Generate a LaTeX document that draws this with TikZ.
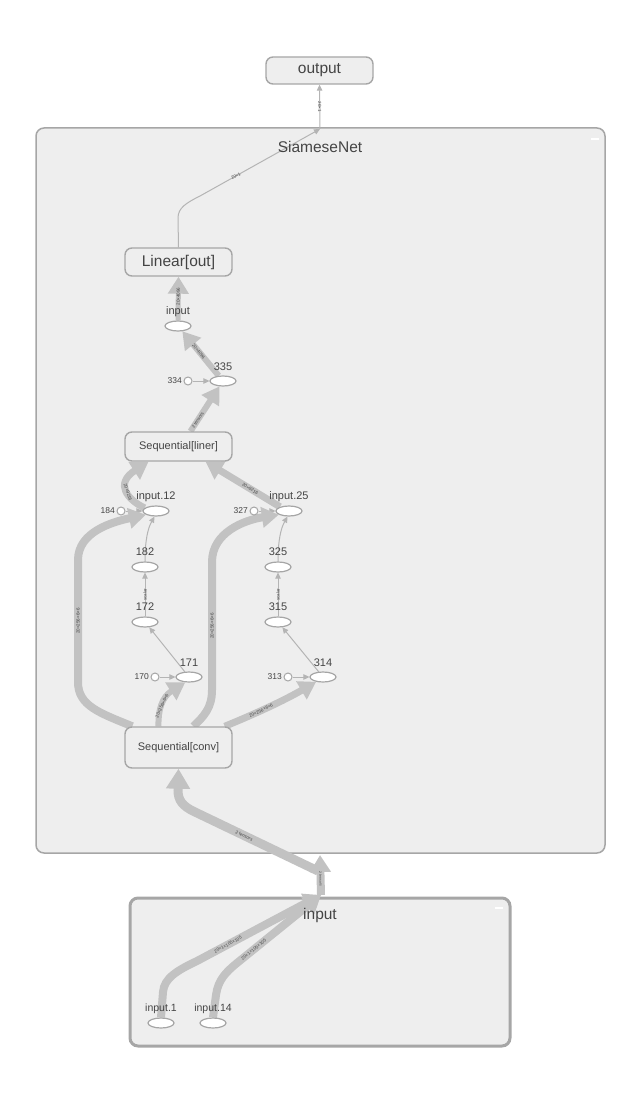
\documentclass[tikz,border=0pt]{standalone}
\usepackage{fontspec}
\setmainfont{Liberation Sans}
\usetikzlibrary{arrows.meta,shapes.geometric}
\definecolor{clfill}{HTML}{EEEEEE}
\definecolor{clline}{HTML}{A6A6A6}
\definecolor{thinc}{HTML}{B4B4B4}
\definecolor{fatc}{HTML}{C2C2C2}
\definecolor{txt}{HTML}{444444}
\pgfdeclarelayer{bg}
\pgfdeclarelayer{edges}
\pgfsetlayers{bg,edges,main}
\begin{document}
\begin{tikzpicture}[x=1pt,y=-1pt,
  cluster/.style={draw=clline, line width=1.5pt, fill=clfill, rounded corners=8pt, inner sep=0},
  opnode/.style={draw=clline, line width=1.4pt, fill=clfill, rounded corners=7pt, minimum width=107pt, minimum height=28pt, inner sep=0, text=txt},
  ellnode/.style={ellipse, draw=clline, line width=1.2pt, fill=white, minimum width=26pt, minimum height=10pt, inner sep=0},
  constnode/.style={circle, draw=clline, line width=1pt, fill=white, minimum size=8pt, inner sep=0},
  biglbl/.style={text=txt, font=\fontsize{15.5}{16}\selectfont, inner sep=0},
  lbl/.style={text=txt, font=\fontsize{11}{11}\selectfont, inner sep=0},
  clbl/.style={text=txt, font=\fontsize{8.5}{9}\selectfont, inner sep=0, anchor=east},
  thinedge/.style={draw=thinc, line width=1pt, -{Triangle[width=5.5pt,length=6pt]}},
  fatedge/.style={draw=fatc, line width=#1, -{Triangle[width=20pt,length=17pt]}},
  fatedge/.default=7pt,
  elbl/.style={sloped, text=txt, font=\fontsize{4.5}{5}\selectfont, inner sep=0.5pt}
]
\useasboundingbox (0,0) rectangle (642,1094);

\begin{pgfonlayer}{bg}
\node[cluster, minimum width=569pt, minimum height=725pt] (siam) at (320.5,490.5) {};
\node[cluster, line width=3pt, minimum width=380pt, minimum height=148pt] (incl) at (320,972) {};
\draw[white, line width=1.5pt] (591,139) -- (599,139);
\draw[white, line width=1.5pt] (495,908) -- (503,908);
\end{pgfonlayer}

% labels of clusters
\node[biglbl] (siamlbl) at (320,147) {SiameseNet};
\node[biglbl] (incllbl) at (320,915) {input};

% op nodes
\node[opnode, minimum height=27pt] (out) at (319.5,70.5) {\fontsize{15.5}{16}\selectfont output};
\node[opnode] (lin) at (178.5,262) {\fontsize{15.5}{16}\selectfont Linear[out]};
\node[opnode, minimum height=29pt] (liner) at (178.5,446.5) {\fontsize{11}{11}\selectfont Sequential[liner]};
\node[opnode, minimum height=41pt] (conv) at (178.5,747.5) {\fontsize{11}{11}\selectfont Sequential[conv]};

% ellipses
\node[ellnode] (inp) at (178,326) {};
\node[lbl] (linp) at (178,312) {input};
\node[ellnode] (n335) at (223,381) {};
\node[lbl] (l335) at (223,367) {335};
\node[ellnode] (in12) at (156,511) {};
\node[lbl] (lin12) at (156,497) {input.12};
\node[ellnode] (in25) at (289,511) {};
\node[lbl] (lin25) at (289,497) {input.25};
\node[ellnode] (n182) at (145,567) {};
\node[lbl] (l182) at (145,552) {182};
\node[ellnode] (n172) at (145,622) {};
\node[lbl] (l172) at (145,607) {172};
\node[ellnode] (n325) at (278,567) {};
\node[lbl] (l325) at (278,552) {325};
\node[ellnode] (n315) at (278,622) {};
\node[lbl] (l315) at (278,607) {315};
\node[ellnode] (n171) at (189,677) {};
\node[lbl] (l171) at (189,663) {171};
\node[ellnode] (n314) at (323,677) {};
\node[lbl] (l314) at (323,663) {314};
\node[ellnode] (inp1) at (161,1023) {};
\node[lbl, font=\fontsize{10.5}{11}\selectfont] (linp1) at (161,1009) {input.1};
\node[ellnode] (inp14) at (213,1023) {};
\node[lbl, font=\fontsize{10.5}{11}\selectfont] (linp14) at (213,1009) {input.14};

% constants
\node[constnode] (c334) at (188,381) {};
\node[clbl] (l334) at (182,381) {334};
\node[constnode] (c184) at (121,511) {};
\node[clbl] (l184) at (115,511) {184};
\node[constnode] (c327) at (254,511) {};
\node[clbl] (l327) at (248,511) {327};
\node[constnode] (c170) at (155,677) {};
\node[clbl] (l170) at (149,677) {170};
\node[constnode] (c313) at (288,677) {};
\node[clbl] (l313) at (282,677) {313};

\coordinate (sout) at (320,129);
\coordinate (bin) at (321,895);
\coordinate (sbot) at (320,855);
\coordinate (bstart) at (318,871);

\begin{pgfonlayer}{edges}
% to output
\draw[thinedge] (lin.north) -- (178,218) .. controls (178,208) and (186,203) .. (200,196) -- node[elbl,pos=0.3]{20×1} (sout);
\draw[thinedge] (sout) -- node[elbl]{20×1} (out.south);
% upper chain
\draw[fatedge=5pt] (inp.north) -- node[elbl,pos=0.55]{20×4096} (lin.south);
\draw[fatedge=6pt] (n335) -- node[elbl,pos=0.55]{20×4096} (inp);
\draw[thinedge] (c334) -- (n335);
\draw[fatedge=6pt] ([xshift=12pt]liner.north) -- node[elbl,pos=0.25]{2 tensors} (n335);
\draw[fatedge=7pt] (in12.165) .. controls (128,500) and (114,484) .. ([xshift=-30pt]liner.south) node[elbl,pos=0.45]{20×9216};
\draw[fatedge=7pt] (in25.155) -- node[elbl,pos=0.4]{20×9216} ([xshift=27pt]liner.south);
\draw[thinedge] (c184) -- (in12);
\draw[thinedge] (c327) -- (in25);
% left branch
\draw[thinedge] (n182.north) .. controls (145,540) and (148,528) .. (in12.255);
\draw[thinedge] (n172) -- node[elbl]{scalar} (n182);
\draw[thinedge] (n171) -- (n172);
\draw[thinedge] (c170) -- (n171);
% right branch
\draw[thinedge] (n325.north) .. controls (278,540) and (281,528) .. (in25.255);
\draw[thinedge] (n315) -- node[elbl]{scalar} (n325);
\draw[thinedge] (n314) -- (n315);
\draw[thinedge] (c313) -- (n314);
% from conv
\draw[fatedge=6pt] ([xshift=-20pt]conv.north) .. controls (158,710) and (162,697) .. (n171.235) node[elbl,pos=0.45]{20×256×6×6};
\draw[fatedge=8pt] ([xshift=8pt]conv.north west) .. controls (100,713) and (78,706) .. (78,682) -- node[elbl]{20×256×6×6} (78,560) .. controls (78,532) and (112,522) .. (in12.200);
\draw[fatedge=8pt] ([xshift=15pt]conv.north) .. controls (204,716) and (212,708) .. (212,690) -- node[elbl]{20×256×6×6} (212,562) .. controls (212,532) and (245,520) .. (in25.200);
\draw[fatedge=7pt] ([xshift=-8pt]conv.north east) .. controls (255,714) and (285,700) .. (n314.215) node[elbl,pos=0.4]{20×256×6×6};
% into conv
\draw[fatedge=9pt, -{Triangle[width=23pt,length=20pt]}] (bstart) -- node[elbl,pos=0.6]{2 tensors} (195,812) .. controls (182,806) and (178,800) .. (178,790) -- (conv.south);
% input cluster
\draw[fatedge=8pt] (inp1.north) -- (163,992) .. controls (164,978) and (178,970) .. (197,961) -- node[elbl,pos=0.25]{20×1×105×105} (bin);
\draw[fatedge=8pt] (inp14.north) -- (216,995) .. controls (218,980) and (226,972) .. (237,963) -- node[elbl,pos=0.2]{20×1×105×105} (bin);
\draw[fatedge=8pt] (bin) -- node[elbl,pos=0.4,font=\fontsize{3.5}{4}\selectfont]{2 tensors} (sbot);
\end{pgfonlayer}
\end{tikzpicture}
\end{document}
